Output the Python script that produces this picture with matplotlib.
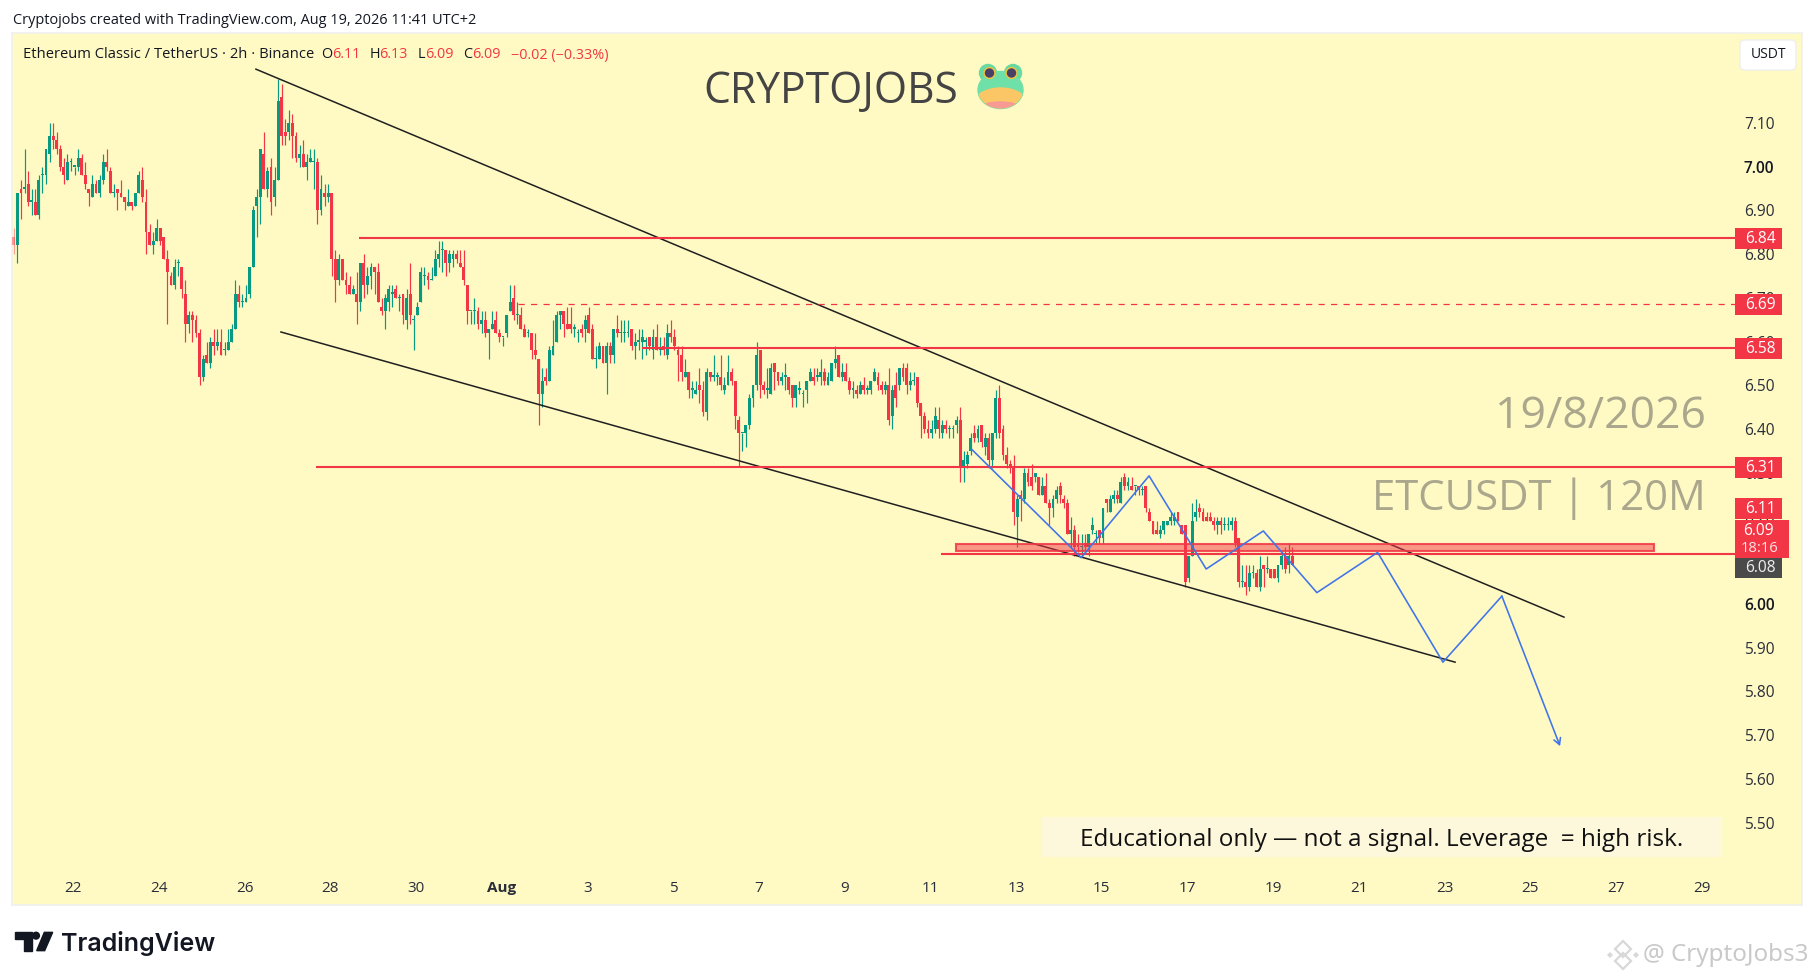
import numpy as np
import matplotlib
matplotlib.use("Agg")
import matplotlib.pyplot as plt
from matplotlib.patches import Rectangle, Polygon, Ellipse, Circle, FancyBboxPatch

plt.rcParams['font.family'] = ['Open Sans', 'DejaVu Sans']

# ---------- data ----------
opens = [6.84,6.82,6.95,6.95,6.96,6.92,6.92,6.89,6.98,6.98,
7.03,7.07,7.06,7.04,7.00,6.97,7.01,7.00,7.00,7.02,
6.98,6.95,6.93,6.96,6.94,6.97,7.01,6.99,6.94,6.95,
6.94,6.93,6.91,6.92,6.91,6.94,6.97,6.92,6.85,6.82,
6.83,6.86,6.84,6.79,6.75,6.73,6.78,6.77,6.71,6.64,
6.66,6.65,6.62,6.52,6.57,6.55,6.60,6.59,6.60,6.58,
6.58,6.60,6.63,6.71,6.69,6.69,6.71,6.77,6.91,6.93,
7.03,6.95,7.00,6.93,6.97,7.16,7.08,7.08,7.10,7.07,
7.02,7.03,7.00,7.01,7.01,7.01,6.90,6.94,6.93,6.94,
6.79,6.74,6.79,6.74,6.73,6.71,6.71,6.69,6.78,6.73,
6.75,6.77,6.76,6.68,6.67,6.69,6.71,6.72,6.70,6.71,
6.65,6.71,6.65,6.66,6.69,6.75,6.75,6.74,6.75,6.79,
6.81,6.81,6.78,6.79,6.80,6.78,6.77,6.73,6.67,6.67,
6.67,6.64,6.65,6.62,6.63,6.65,6.62,6.61,6.62,6.67,
6.70,6.66,6.66,6.63,6.62,6.62,6.58,6.56,6.48,6.52,
6.51,6.57,6.60,6.66,6.67,6.64,6.64,6.63,6.62,6.63,
6.63,6.66,6.63,6.56,6.56,6.59,6.55,6.59,6.57,6.63,
6.62,6.62,6.62,6.63,6.59,6.60,6.60,6.60,6.61,6.58,
6.61,6.58,6.59,6.57,6.62,6.61,6.58,6.57,6.52,6.53,
6.49,6.48,6.50,6.49,6.44,6.53,6.52,6.52,6.52,6.49,
6.50,6.53,6.51,6.42,6.39,6.39,6.41,6.47,6.50,6.58,
6.50,6.49,6.48,6.55,6.53,6.51,6.52,6.52,6.50,6.47,
6.49,6.48,6.49,6.51,6.52,6.52,6.52,6.53,6.50,6.51,
6.55,6.57,6.52,6.53,6.51,6.49,6.49,6.48,6.50,6.49,
6.49,6.51,6.52,6.50,6.49,6.50,6.43,6.50,6.50,6.54,
6.54,6.50,6.51,6.52,6.46,6.43,6.40,6.39,6.40,6.42,
6.39,6.41,6.40,6.40,6.41,6.42,6.31,6.32,6.35,6.39,
6.38,6.41,6.36,6.38,6.33,6.39,6.47,6.40,6.34,6.32,
6.31,6.20,6.25,6.24,6.30,6.29,6.29,6.29,6.25,6.27,
6.23,6.22,6.24,6.27,6.24,6.23,6.16,6.17,6.14,6.13,
6.14,6.13,6.17,6.16,6.17,6.15,6.24,6.21,6.24,6.25,
6.23,6.29,6.27,6.27,6.27,6.27,6.26,6.27,6.21,6.19,
6.17,6.16,6.17,6.18,6.19,6.19,6.21,6.18,6.18,6.06,
6.11,6.20,6.22,6.21,6.20,6.20,6.19,6.18,6.19,6.18,
6.18,6.18,6.19,6.15,6.05,6.05,6.04,6.07,6.07,6.04,
6.09,6.08,6.08,6.08,6.06,6.09,6.11,6.09,6.11]
closes = [6.82,6.94,6.94,6.95,6.92,6.92,6.89,6.97,6.98,7.04,
7.07,7.06,7.04,7.00,6.98,7.01,7.01,7.00,7.02,6.98,
6.96,6.94,6.96,6.94,6.97,7.01,7.00,6.94,6.94,6.94,
6.93,6.92,6.92,6.91,6.94,6.98,6.93,6.85,6.82,6.83,
6.86,6.83,6.79,6.76,6.73,6.77,6.78,6.72,6.64,6.66,
6.65,6.62,6.52,6.56,6.55,6.60,6.59,6.60,6.57,6.58,
6.60,6.63,6.71,6.69,6.69,6.70,6.77,6.90,6.93,7.04,
6.95,6.99,6.92,6.97,7.15,7.07,7.07,7.10,7.07,7.02,
7.03,7.00,7.01,7.02,7.01,6.90,6.95,6.93,6.94,6.79,
6.74,6.79,6.74,6.73,6.71,6.72,6.69,6.78,6.73,6.75,
6.77,6.76,6.69,6.67,6.70,6.72,6.71,6.70,6.70,6.66,
6.70,6.66,6.65,6.68,6.76,6.75,6.74,6.74,6.79,6.80,
6.81,6.78,6.80,6.80,6.79,6.77,6.74,6.67,6.67,6.67,
6.64,6.65,6.62,6.63,6.64,6.62,6.61,6.61,6.66,6.69,
6.66,6.66,6.63,6.61,6.62,6.58,6.57,6.48,6.51,6.51,
6.58,6.59,6.66,6.67,6.64,6.63,6.63,6.63,6.62,6.62,
6.65,6.62,6.56,6.56,6.59,6.55,6.59,6.57,6.63,6.62,
6.62,6.62,6.62,6.59,6.60,6.60,6.61,6.60,6.59,6.61,
6.58,6.58,6.58,6.62,6.61,6.59,6.57,6.53,6.53,6.49,
6.49,6.49,6.49,6.44,6.53,6.52,6.52,6.52,6.50,6.50,
6.53,6.51,6.43,6.39,6.39,6.41,6.47,6.50,6.57,6.50,
6.49,6.49,6.54,6.53,6.51,6.52,6.52,6.49,6.47,6.50,
6.49,6.48,6.51,6.53,6.51,6.52,6.53,6.51,6.52,6.55,
6.56,6.52,6.53,6.51,6.49,6.49,6.48,6.50,6.49,6.49,
6.51,6.53,6.50,6.49,6.50,6.42,6.49,6.47,6.54,6.52,
6.50,6.51,6.51,6.46,6.43,6.40,6.39,6.40,6.43,6.40,
6.41,6.40,6.40,6.40,6.42,6.31,6.33,6.34,6.38,6.38,
6.40,6.37,6.38,6.33,6.39,6.47,6.39,6.34,6.32,6.31,
6.21,6.24,6.24,6.30,6.28,6.27,6.30,6.25,6.27,6.23,
6.22,6.24,6.26,6.25,6.23,6.16,6.17,6.13,6.13,6.13,
6.13,6.16,6.18,6.16,6.15,6.22,6.23,6.24,6.25,6.24,
6.28,6.27,6.28,6.26,6.27,6.26,6.26,6.22,6.19,6.16,
6.16,6.17,6.19,6.19,6.20,6.20,6.19,6.16,6.05,6.11,
6.19,6.21,6.21,6.19,6.19,6.19,6.18,6.19,6.18,6.18,
6.18,6.19,6.14,6.05,6.05,6.04,6.07,6.07,6.04,6.08,
6.08,6.08,6.06,6.06,6.09,6.11,6.08,6.11,6.09]
highs = [6.86,6.94,6.97,7.04,6.99,6.95,6.95,6.98,7.00,7.04,
7.10,7.10,7.08,7.05,7.02,7.03,7.02,7.00,7.04,7.03,
7.01,6.95,6.98,6.97,6.98,7.03,7.04,7.00,6.96,6.95,
6.97,6.93,6.95,6.92,6.94,6.99,7.00,6.95,6.87,6.85,
6.88,6.86,6.84,6.81,6.76,6.79,6.79,6.77,6.74,6.67,
6.67,6.66,6.63,6.57,6.60,6.61,6.63,6.63,6.63,6.60,
6.63,6.64,6.74,6.73,6.71,6.73,6.77,6.91,6.95,7.04,
7.08,7.00,7.02,7.00,7.20,7.19,7.11,7.13,7.12,7.08,
7.05,7.06,7.03,7.04,7.04,7.02,6.98,6.96,6.96,6.94,
6.81,6.80,6.79,6.76,6.75,6.73,6.76,6.78,6.80,6.77,
6.78,6.77,6.78,6.70,6.71,6.73,6.73,6.73,6.71,6.71,
6.72,6.78,6.66,6.69,6.77,6.77,6.76,6.77,6.81,6.83,
6.83,6.81,6.81,6.81,6.81,6.81,6.81,6.73,6.67,6.70,
6.68,6.67,6.67,6.63,6.67,6.67,6.63,6.61,6.66,6.73,
6.73,6.69,6.68,6.64,6.63,6.62,6.62,6.56,6.54,6.54,
6.59,6.65,6.67,6.67,6.67,6.68,6.68,6.64,6.63,6.64,
6.66,6.68,6.64,6.59,6.60,6.59,6.60,6.60,6.63,6.66,
6.65,6.65,6.65,6.63,6.62,6.63,6.63,6.61,6.61,6.63,
6.64,6.61,6.61,6.64,6.65,6.63,6.59,6.59,6.56,6.53,
6.51,6.51,6.54,6.51,6.54,6.53,6.57,6.53,6.57,6.52,
6.57,6.54,6.51,6.43,6.39,6.41,6.48,6.50,6.60,6.58,
6.51,6.54,6.55,6.55,6.53,6.53,6.55,6.52,6.50,6.50,
6.51,6.49,6.51,6.54,6.54,6.54,6.56,6.54,6.53,6.55,
6.59,6.57,6.55,6.55,6.52,6.51,6.50,6.51,6.52,6.50,
6.51,6.54,6.53,6.51,6.51,6.54,6.50,6.53,6.54,6.55,
6.55,6.53,6.53,6.52,6.46,6.44,6.42,6.42,6.45,6.45,
6.42,6.42,6.41,6.41,6.43,6.45,6.35,6.35,6.39,6.41,
6.41,6.41,6.39,6.39,6.39,6.49,6.50,6.41,6.36,6.33,
6.34,6.25,6.26,6.31,6.31,6.32,6.30,6.29,6.29,6.30,
6.24,6.25,6.27,6.28,6.25,6.24,6.20,6.18,6.16,6.16,
6.16,6.16,6.20,6.17,6.17,6.22,6.24,6.25,6.26,6.26,
6.29,6.30,6.29,6.29,6.27,6.27,6.27,6.27,6.22,6.19,
6.19,6.18,6.19,6.19,6.21,6.21,6.21,6.18,6.18,6.11,
6.23,6.24,6.23,6.22,6.21,6.21,6.20,6.20,6.20,6.20,
6.20,6.20,6.20,6.15,6.09,6.09,6.09,6.09,6.08,6.11,
6.09,6.11,6.08,6.08,6.09,6.12,6.13,6.14,6.13]
lows = [6.80,6.78,6.88,6.94,6.91,6.89,6.89,6.88,6.94,6.96,
7.01,7.04,7.03,6.99,6.96,6.97,6.99,6.98,6.99,6.98,
6.95,6.91,6.93,6.94,6.93,6.96,6.99,6.94,6.93,6.90,
6.93,6.90,6.91,6.90,6.91,6.94,6.92,6.80,6.82,6.80,
6.83,6.82,6.79,6.64,6.73,6.72,6.75,6.70,6.60,6.62,
6.60,6.61,6.50,6.51,6.55,6.54,6.57,6.58,6.57,6.57,
6.58,6.60,6.63,6.68,6.68,6.69,6.70,6.77,6.84,6.87,
6.95,6.93,6.89,6.91,6.97,7.05,7.05,7.06,7.02,7.01,
7.00,7.00,6.97,7.01,6.95,6.87,6.89,6.91,6.92,6.75,
6.69,6.73,6.74,6.71,6.71,6.71,6.64,6.67,6.70,6.71,
6.72,6.71,6.69,6.66,6.63,6.67,6.68,6.70,6.67,6.64,
6.63,6.64,6.58,6.66,6.69,6.73,6.72,6.74,6.75,6.77,
6.76,6.75,6.76,6.77,6.78,6.77,6.73,6.64,6.64,6.64,
6.63,6.62,6.61,6.56,6.63,6.62,6.60,6.59,6.61,6.67,
6.65,6.64,6.63,6.61,6.61,6.56,6.56,6.41,6.45,6.50,
6.51,6.57,6.60,6.63,6.61,6.63,6.62,6.61,6.60,6.61,
6.60,6.62,6.56,6.54,6.56,6.55,6.48,6.55,6.55,6.61,
6.60,6.60,6.61,6.58,6.56,6.58,6.56,6.57,6.58,6.56,
6.58,6.57,6.57,6.56,6.60,6.58,6.51,6.51,6.52,6.47,
6.47,6.48,6.46,6.43,6.42,6.51,6.51,6.50,6.49,6.48,
6.50,6.50,6.40,6.315,6.35,6.36,6.40,6.45,6.49,6.47,
6.48,6.47,6.48,6.49,6.50,6.50,6.49,6.48,6.45,6.45,
6.48,6.45,6.46,6.51,6.50,6.51,6.50,6.50,6.50,6.51,
6.54,6.52,6.51,6.51,6.48,6.47,6.47,6.48,6.48,6.48,
6.48,6.51,6.49,6.48,6.48,6.41,6.40,6.45,6.49,6.51,
6.48,6.49,6.50,6.45,6.38,6.39,6.38,6.38,6.39,6.38,
6.38,6.39,6.38,6.38,6.39,6.28,6.28,6.31,6.34,6.37,
6.37,6.36,6.34,6.31,6.31,6.38,6.38,6.33,6.31,6.30,
6.18,6.13,6.19,6.23,6.27,6.26,6.28,6.25,6.25,6.23,
6.18,6.20,6.23,6.23,6.22,6.16,6.13,6.11,6.12,6.11,
6.12,6.11,6.16,6.14,6.14,6.14,6.21,6.21,6.23,6.23,
6.23,6.26,6.26,6.26,6.25,6.25,6.25,6.21,6.19,6.16,
6.16,6.15,6.16,6.18,6.18,6.18,6.19,6.16,6.04,6.05,
6.11,6.19,6.20,6.19,6.19,6.19,6.17,6.16,6.16,6.17,
6.17,6.17,6.13,6.04,6.04,6.02,6.03,6.06,6.04,6.03,
6.04,6.07,6.06,6.06,6.05,6.08,6.07,6.07,6.09]

price_ticks = [7.10,7.00,6.90,6.80,6.70,6.60,6.50,6.40,6.30,6.20,6.10,6.00,5.90,5.80,5.70,5.60,5.50]
day_offsets = [0,2,4,6,8,10,12,14,16,18,20,22,24,26,28,30,32,34,36,38]
day_labels = ['22','24','26','28','30','Aug','3','5','7','9','11','13','15','17','19','21','23','25','27','29']
bars_per_day = 12
first_day_bar = 16.65

upper_trend_bar, upper_trend_price = [67.8, 434.1], [7.223, 5.970]
lower_trend_bar, lower_trend_price = [74.8, 403.6], [6.622, 5.867]
level_prices = [6.836, 6.586, 6.314, 6.115]
level_starts = [96.6, 175.8, 84.6, 259.7]
dashed_price, dashed_start = 6.685, 141.2
zone_bars, zone_prices = (263.7, 459.3), (6.121, 6.137)
path_bars = [268.2,298.9,317.9,333.9,349.9,364.9,381.9,400.2,416.7,433.0]
path_prices = [6.354,6.106,6.293,6.080,6.167,6.026,6.118,5.867,6.018,5.675]

axis_labels = [('6.84',238.5),('6.69',304.5),('6.58',348.5),('6.31',467.5),('6.11',508.5)]

W, H = 1814, 980
UP, DOWN = '#089981', '#F23645'
PANE = '#FFF9C4'
INK = '#2a2e39'

fig = plt.figure(figsize=(W/100, H/100), dpi=100, facecolor='white')
L, R, T, B = 12, 1802, 33, 905
ax = fig.add_axes([L/W, 1-B/H, (R-L)/W, (B-T)/H], facecolor=PANE)
ax.set_xlim((L-13.83)/3.571, (R-13.83)/3.571)
ax.set_ylim(7-(B-166.7)/437.3, 7-(T-166.7)/437.3)
for s in ax.spines.values():
    s.set_color('#f0f0ee'); s.set_linewidth(1.2)

o, c, h, l = map(np.array, (opens, closes, highs, lows))
k = np.arange(len(o))
cols = np.where(c >= o, UP, DOWN)
alpha = np.where(k == 0, 0.45, 1.0)
for i in k:
    ax.vlines(i, l[i], h[i], color=cols[i], lw=0.85, alpha=alpha[i], zorder=2)
    ax.bar(i, max(abs(c[i]-o[i]), 0.0028), bottom=min(o[i], c[i]), width=0.8,
           color=cols[i], alpha=alpha[i], linewidth=0, zorder=3)

ax.plot(upper_trend_bar, upper_trend_price, color='#1f1f1f', lw=1.1, zorder=4)
ax.plot(lower_trend_bar, lower_trend_price, color='#1f1f1f', lw=1.1, zorder=4)
right_end = (1735-13.83)/3.571
ax.add_patch(Rectangle((zone_bars[0], zone_prices[0]), zone_bars[1]-zone_bars[0], zone_prices[1]-zone_prices[0],
                       facecolor='#F23645', edgecolor='none', alpha=0.5, zorder=4))
ax.add_patch(Rectangle((zone_bars[0], zone_prices[0]), zone_bars[1]-zone_bars[0], zone_prices[1]-zone_prices[0],
                       facecolor='none', edgecolor='#F23645', lw=1.5, alpha=0.85, zorder=4))
for p, s in zip(level_prices, level_starts):
    ax.plot([s, right_end], [p, p], color=DOWN, lw=1.5, zorder=5, solid_capstyle='butt')
ax.plot([dashed_start, right_end], [dashed_price]*2, color=DOWN, lw=0.9, ls=(0, (5, 5)), zorder=5)
ax.plot(path_bars[:-1], path_prices[:-1], color='#3f74ea', lw=1.15, zorder=6)
ax.annotate('', xy=(path_bars[-1], path_prices[-1]), xytext=(path_bars[-2], path_prices[-2]),
            arrowprops=dict(arrowstyle='->,head_length=0.45,head_width=0.25', color='#3f74ea', lw=1.15,
                            shrinkA=0, shrinkB=0), zorder=6)

ax.yaxis.tick_right()
ax.set_yticks(price_ticks)
ax.set_yticklabels([f'{p:.2f}' for p in price_ticks], fontsize=11.2, color=INK)
ax.tick_params(axis='y', length=0, pad=-41.8)
for t, p in zip(ax.get_yticklabels(), price_ticks):
    if p in (7.00, 6.00):
        t.set_fontweight('semibold'); t.set_color('#131722')
ax.set_xticks([first_day_bar + bars_per_day*d for d in day_offsets])
ax.set_xticklabels(day_labels, fontsize=11, color=INK)
ax.tick_params(axis='x', length=0, pad=-17.5)
for t, s in zip(ax.get_xticklabels(), day_labels):
    if s == 'Aug':
        t.set_fontweight('bold')

# overlay in pixel coordinates for the surrounding furniture
ov = fig.add_axes([0, 0, 1, 1], facecolor='none')
ov.set_xlim(0, W); ov.set_ylim(H, 0); ov.axis('off')

def txt(x, y, s, size=10.2, color=INK, ha='left', **kw):
    ov.text(x, y, s, fontsize=size, color=color, ha=ha, va='center', **kw)

txt(13, 21, 'Cryptojobs created with TradingView.com, Aug 19, 2026 11:41 UTC+2', size=10.45, color='#131722')
txt(23, 55, 'Ethereum Classic / TetherUS · 2h · Binance', size=10.65, color='#131722')
for x, s, col in [(321,'O','#131722'),(332,'6.11',DOWN),(370,'H','#131722'),(379.5,'6.13',DOWN),
                  (418,'L','#131722'),(425,'6.09',DOWN),(463,'C','#131722'),(472,'6.09',DOWN),
                  (511,'−0.02 (−0.33%)',DOWN)]:
    txt(x, 55, s, size=10.4, color=col)

txt(703, 91.5, 'CRYPTOJOBS', size=30.7, color='#444444')
txt(1706, 417, '19/8/2026', size=32, color='#aaa78c', ha='right')
txt(1706, 499, 'ETCUSDT | 120M', size=30.2, color='#aaa78c', ha='right')

# frog face
fx, fy = 1000.5, 87
ov.add_patch(Circle((fx-12.5, fy-14), 8.5, color='#67d9a3', zorder=3))
ov.add_patch(Circle((fx+12.5, fy-14), 8.5, color='#67d9a3', zorder=3))
head = Ellipse((fx, fy+3), 45, 37, color='#6fe0a8', zorder=3)
ov.add_patch(head)
belly = Ellipse((fx, fy+16), 52, 30, color='#fbc766', zorder=4)
ov.add_patch(belly); belly.set_clip_path(head)
blush = Ellipse((fx, fy+21), 40, 12, color='#f8949a', alpha=0.85, zorder=5)
ov.add_patch(blush); blush.set_clip_path(head)
for sx in (-1, 1):
    ov.add_patch(Circle((fx+sx*11, fy-14), 5.4, color='#f2c53d', zorder=6))
    ov.add_patch(Circle((fx+sx*11, fy-14), 4.0, color='#4a3f66', zorder=7))

# footer note
ov.add_patch(Rectangle((1042, 817), 680, 40, facecolor='#FDF8DC', edgecolor='none'))
txt(1382, 840, 'Educational only — not a signal. Leverage  = high risk.', size=17.5, color='#111111', ha='center')

# USDT button
ov.add_patch(FancyBboxPatch((1740, 40), 56, 30, boxstyle='round,pad=0,rounding_size=5', facecolor='white',
                            edgecolor='#eeeeee', lw=1))
txt(1768, 55, 'USDT', size=10, color='#131722', ha='center')

# price-axis flags
for s, y in axis_labels:
    ov.add_patch(Rectangle((1735, y-10.5), 47, 21, facecolor=DOWN, edgecolor='none', zorder=3))
    ov.text(1760.5, y, s, fontsize=11.2, color='white', ha='center', va='center', zorder=4)
ov.add_patch(Rectangle((1735, 520), 54, 37.5, facecolor=DOWN, edgecolor='none', zorder=3))
ov.text(1758, 530.5, '6.09', fontsize=11.2, color='white', ha='center', va='center', zorder=4)
ov.text(1760, 548, '18:16', fontsize=10.6, color='#ffe3e6', ha='center', va='center', zorder=4)
ov.add_patch(Rectangle((1735, 558), 47, 20, facecolor='#4a4a4a', edgecolor='none', zorder=3))
ov.text(1760.5, 568, '6.08', fontsize=11.2, color='#f0f0f0', ha='center', va='center', zorder=4)

# TradingView logo
def lp(pts):
    return [(a/3, 860+b/3) for a, b in pts]
ov.add_patch(Polygon(lp([(45,217),(95,217),(95,272),(72,272),(72,237),(45,237)]), color='#131722'))
ov.add_patch(Circle((108/3, 860+227/3), 3.4, color='#131722'))
ov.add_patch(Polygon(lp([(133,217),(158,217),(134,272),(110,272)]), color='#131722'))
txt(61, 943, 'TradingView', size=18, color='#131722', family='Inter', fontweight='semibold')

# watermark
wx, wy = 1623, 955
ov.add_patch(Polygon([(wx,wy-14),(wx+8,wy-6),(wx,wy+2),(wx-8,wy-6)], closed=True, facecolor='none', edgecolor='#d8d8d8', lw=1.6))
ov.add_patch(Polygon([(wx,wy+14),(wx+8,wy+6),(wx,wy-2),(wx-8,wy+6)], closed=True, facecolor='none', edgecolor='#d8d8d8', lw=1.6))
for sx in (-1, 1):
    ov.add_patch(Polygon([(wx+sx*13,wy-3),(wx+sx*16,wy),(wx+sx*13,wy+3),(wx+sx*10,wy)], closed=True, facecolor='#d8d8d8', edgecolor='none'))
txt(1643, 955, '@ CryptoJobs3', size=17.4, color='#c9c9c9', family='Noto Sans')

fig.savefig('out.png', dpi=100)
